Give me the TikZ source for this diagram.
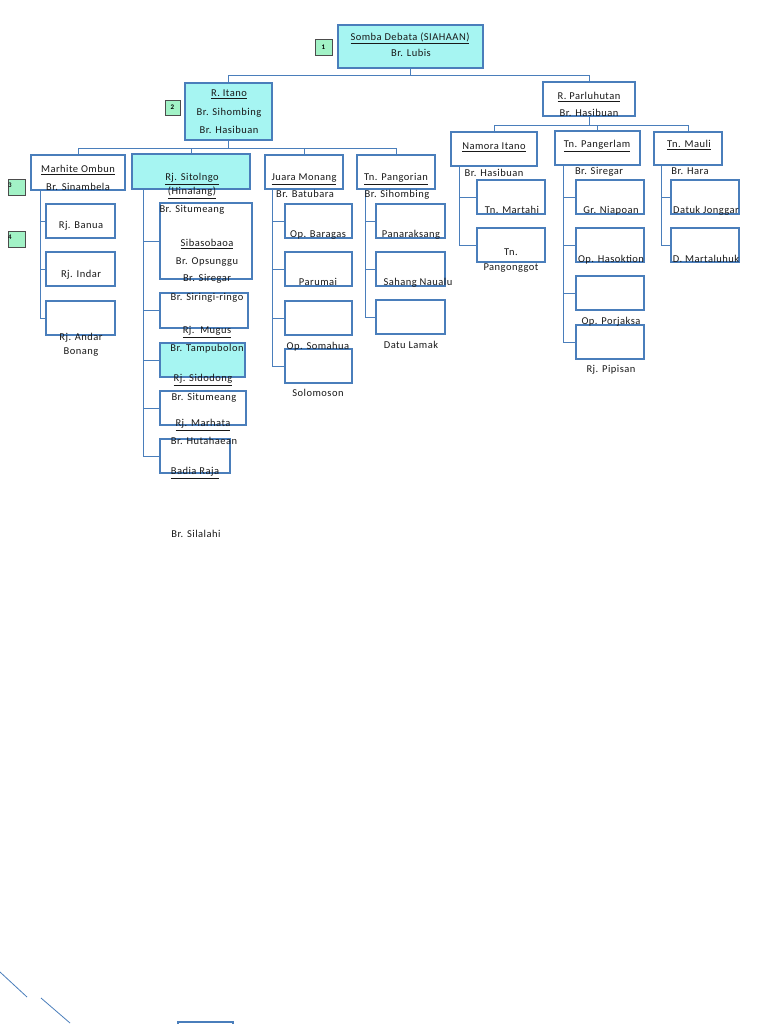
\documentclass[tikz,border=0pt]{standalone}
\usepackage{fontspec}
\setmainfont{Carlito}[LetterSpace=4.5]
\usetikzlibrary{positioning}
\definecolor{orgblue}{HTML}{4A7EBB}
\definecolor{orgcyan}{HTML}{A6F5F2}
\definecolor{orggreen}{HTML}{A2F2C6}
\newcommand{\uname}[1]{\underline{#1}}

\begin{document}
\begin{tikzpicture}[x=1pt,y=-1pt,font=\fontsize{10.5}{12}\selectfont,
  box/.style={draw=orgblue,line width=1.4pt,fill=white,inner sep=0pt},
  cyanbox/.style={box,fill=orgcyan},
  kid/.style={box,minimum width=69pt,minimum height=34pt},
  tag/.style={draw=black!70,fill=orggreen,minimum width=16pt,minimum height=16pt,inner sep=0pt,font=\fontsize{7}{8}\selectfont\bfseries},
  txt/.style={inner sep=0pt,text height=7pt,text depth=0pt,text=black!90},
  link/.style={draw=orgblue,line width=0.8pt}]
  \useasboundingbox[fill=white] (0,0) rectangle (768,1024);

  % heads
  \node[cyanbox,minimum width=145pt,minimum height=43pt] (root) at (410.5,46.5) {};
  \node[cyanbox,minimum width=87pt,minimum height=57pt] (itano) at (228.5,111.5) {};
  \node[box,minimum width=92pt,minimum height=34pt] (parl) at (589,99) {};
  \node[box,minimum width=94pt,minimum height=35pt] (marhite) at (78,172.5) {};
  \node[cyanbox,minimum width=118pt,minimum height=35pt] (sitolngo) at (191,171.5) {};
  \node[box,minimum width=78pt,minimum height=34pt] (juara) at (304,172) {};
  \node[box,minimum width=78pt,minimum height=34pt] (pangorian) at (396,172) {};
  \node[box,minimum width=86pt,minimum height=34pt] (namora) at (494,149) {};
  \node[box,minimum width=85pt,minimum height=34pt] (pangerlam) at (597.5,148) {};
  \node[box,minimum width=68pt,minimum height=33pt] (mauli) at (688,148.5) {};

  % children
  \node[kid] (banua) at (80.5,221) {};
  \node[kid] (indar) at (80.5,269) {};
  \node[kid] (andar) at (80.5,318) {};
  \node[box,minimum width=92pt,minimum height=76pt] (sibaso) at (206,241) {};
  \node[box,minimum width=88pt,minimum height=35pt] (mugus) at (204,310.5) {};
  \node[cyanbox,minimum width=85pt,minimum height=34pt] (sidodong) at (202.5,360) {};
  \node[box,minimum width=86pt,minimum height=34pt] (marhata) at (203,408) {};
  \node[box,minimum width=70pt,minimum height=34pt] (badia) at (195,456) {};
  \node[kid,minimum width=67pt] (baragas) at (318.5,221) {};
  \node[kid,minimum width=67pt] (parumai) at (318.5,269) {};
  \node[kid,minimum width=67pt] (somahua) at (318.5,318) {};
  \node[kid,minimum width=67pt] (solomoson) at (318.5,366) {};
  \node[kid] (panaraksang) at (410.5,221) {};
  \node[kid] (sahang) at (410.5,269) {};
  \node[kid] (datu) at (410.5,317) {};
  \node[kid,minimum width=68pt] (martahi) at (511,197) {};
  \node[kid,minimum width=68pt] (pangonggot) at (511,245) {};
  \node[kid,minimum width=68pt] (niapoan) at (610,197) {};
  \node[kid,minimum width=68pt] (hasoktion) at (610,245) {};
  \node[kid,minimum width=68pt] (porjaksa) at (610,293) {};
  \node[kid,minimum width=68pt] (pipisan) at (610,342) {};
  \node[kid,minimum width=68pt] (jonggar) at (705,197) {};
  \node[kid,minimum width=68pt] (martaluhuk) at (705,245) {};
  \node[box,minimum width=55pt,minimum height=30pt] (stub) at (205.5,1037) {};

  % number tags
  \node[tag,minimum width=17pt] (tag1) at (323.5,47) {1};
  \node[tag,minimum width=15pt,minimum height=15pt] (tag2) at (172.5,107.5) {2};
  \node[tag,minimum width=17pt] (tag3) at (16.5,187) {};
  \node[tag,minimum width=17pt] (tag4) at (16.5,239) {};
  \node[txt,font=\fontsize{7}{8}\selectfont\bfseries] (tag3n) at (10,184) {3};
  \node[txt,font=\fontsize{7}{8}\selectfont\bfseries] (tag4n) at (10,236) {4};

  % connectors
  \draw[link] (root.south) -- ++(0,7) -| (itano.north);
  \draw[link] (root.south) ++(0,7) -| (parl.north);
  \foreach \c in {marhite,sitolngo,juara,pangorian}
    \draw[link] (itano.south) -- ++(0,8) -| (\c.north);
  \foreach \c in {namora,pangerlam,mauli}
    \draw[link] (parl.south) -- ++(0,9) -| (\c.north);
  \foreach \c in {banua,indar,andar}
    \draw[link] ([xshift=10pt]marhite.south west) |- (\c.west);
  \foreach \c in {sibaso,mugus,sidodong,marhata,badia}
    \draw[link] ([xshift=12pt]sitolngo.south west) |- (\c.west);
  \foreach \c in {baragas,parumai,somahua,solomoson}
    \draw[link] ([xshift=8pt]juara.south west) |- (\c.west);
  \foreach \c in {panaraksang,sahang,datu}
    \draw[link] ([xshift=9pt]pangorian.south west) |- (\c.west);
  \foreach \c in {martahi,pangonggot}
    \draw[link] ([xshift=9pt]namora.south west) |- (\c.west);
  \foreach \c in {niapoan,hasoktion,porjaksa,pipisan}
    \draw[link] ([xshift=9pt]pangerlam.south west) |- (\c.west);
  \foreach \c in {jonggar,martaluhuk}
    \draw[link] ([xshift=8pt]mauli.south west) |- (\c.west);

  % stray strokes at the foot
  \draw[link] (0,972) -- (27,997);
  \draw[link] (41,998) -- (70,1023);

  % texts
  \node[txt] (root-t1) at (410,37) {\uname{Somba Debata (SIAHAAN)}};
  \node[txt] (root-t2) at (411,53) {Br. Lubis};
  \node[txt] (itano-t1) at (229,93) {\uname{R. Itano}};
  \node[txt] (itano-t2) at (229,112) {Br. Sihombing};
  \node[txt] (itano-t3) at (229,130) {Br. Hasibuan};
  \node[txt] (parl-t1) at (589,96) {\uname{R. Parluhutan}};
  \node[txt] (parl-t2) at (589,113) {Br. Hasibuan};
  \node[txt] (marhite-t1) at (78,169) {\uname{Marhite Ombun}};
  \node[txt] (marhite-t2) at (78,187) {Br. Sinambela};
  \node[txt] (sitolngo-t1) at (192,177) {\uname{Rj. Sitolngo}};
  \node[txt] (sitolngo-t2) at (192,191) {\uname{(Hinalang)}};
  \node[txt] (juara-t1) at (304,177) {\uname{Juara Monang}};
  \node[txt] (juara-t2) at (305,194) {Br. Batubara};
  \node[txt] (pangorian-t1) at (396,177) {\uname{Tn. Pangorian}};
  \node[txt] (pangorian-t2) at (397,194) {Br. Sihombing};
  \node[txt] (banua-t) at (81,225) {Rj. Banua};
  \node[txt] (indar-t) at (81,274) {Rj. Indar};
  \node[txt] (andar-t1) at (81,337) {Rj. Andar};
  \node[txt] (andar-t2) at (81,351) {Bonang};
  \node[txt] (sibaso-t1) at (192,209) {Br. Situmeang};
  \node[txt] (sibaso-t2) at (207,243) {\uname{Sibasobaoa}};
  \node[txt] (sibaso-t3) at (207,261) {Br. Opsunggu};
  \node[txt] (sibaso-t4) at (207,278) {Br. Siregar};
  \node[txt] (mugus-t1) at (207,297) {Br. Siringi-ringo};
  \node[txt] (mugus-t2) at (207,330) {\uname{Rj.\ \ Mugus}};
  \node[txt] (sidodong-t1) at (207,348) {Br. Tampubolon};
  \node[txt] (sidodong-t2) at (203,378) {\uname{Rj. Sidodong}};
  \node[txt] (marhata-t1) at (204,397) {Br. Situmeang};
  \node[txt] (marhata-t2) at (203,423) {\uname{Rj. Marhata}};
  \node[txt] (badia-t1) at (204,441) {Br. Hutahaean};
  \node[txt] (badia-t2) at (195,471) {\uname{Badia Raja}};
  \node[txt] (silalahi-t) at (196,534) {Br. Silalahi};
  \node[txt] (baragas-t) at (318,234) {Op. Baragas};
  \node[txt] (parumai-t) at (318,282) {Parumai};
  \node[txt] (somahua-t) at (318,346) {Op. Somahua};
  \node[txt] (solomoson-t) at (318,393) {Solomoson};
  \node[txt] (panaraksang-t) at (411,234) {Panaraksang};
  \node[txt] (sahang-t) at (418,282) {Sahang Naualu};
  \node[txt] (datu-t) at (411,345) {Datu Lamak};
  \node[txt] (namora-t1) at (494,146) {\uname{Namora Itano}};
  \node[txt] (namora-t2) at (494,173) {Br. Hasibuan};
  \node[txt] (pangerlam-t1) at (597,144) {\uname{Tn. Pangerlam}};
  \node[txt] (pangerlam-t2) at (599,171) {Br. Siregar};
  \node[txt] (mauli-t1) at (689,144) {\uname{Tn. Mauli}};
  \node[txt] (mauli-t2) at (690,171) {Br. Hara};
  \node[txt] (martahi-t) at (512,210) {Tn. Martahi};
  \node[txt] (pangonggot-t1) at (511,252) {Tn.};
  \node[txt] (pangonggot-t2) at (511,267) {Pangonggot};
  \node[txt] (niapoan-t) at (611,210) {Gr. Niapoan};
  \node[txt] (hasoktion-t) at (611,259) {Op. Hasoktion};
  \node[txt] (porjaksa-t) at (611,321) {Op. Porjaksa};
  \node[txt] (pipisan-t) at (611,369) {Rj. Pipisan};
  \node[txt] (jonggar-t) at (706,210) {Datuk Jonggar};
  \node[txt] (martaluhuk-t) at (706,259) {D. Martaluhuk};
\end{tikzpicture}
\end{document}
